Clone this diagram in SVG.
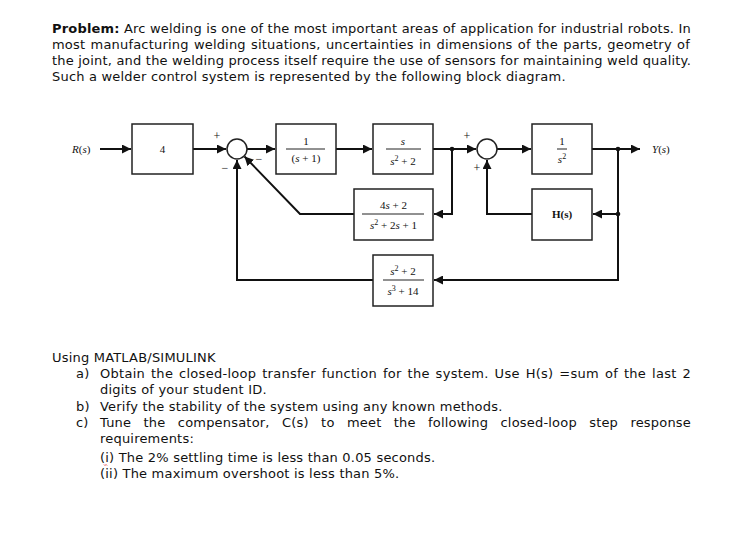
<svg xmlns="http://www.w3.org/2000/svg" width="733" height="539" viewBox="0 0 733 539">
<defs>
<style>
.p{font-family:"DejaVu Sans","Liberation Sans",sans-serif;font-size:13px;letter-spacing:0.2px;fill:#111}
.m{font-family:"Liberation Serif","Times New Roman",serif;font-size:11px;fill:#111}
.i{font-style:italic}
.box{fill:#fff;stroke:#222;stroke-width:1.5}
.c{fill:none;stroke:#111;stroke-width:2}
.bar{stroke:#222;stroke-width:1}
.sg{font-family:"Liberation Serif",serif;font-size:12px;fill:#111}
</style>
<marker id="ah" viewBox="0 0 10 10" refX="10" refY="5" markerWidth="4.5" markerHeight="4.5" orient="auto" markerUnits="strokeWidth">
<path d="M0,0 L10,5 L0,10 z" fill="#111"/>
</marker>
</defs>
<rect width="733" height="539" fill="#fff"/>

<g id="problem-text">
<text class="p" x="52" y="32.5" textLength="639" lengthAdjust="spacing"><tspan font-weight="bold">Problem:</tspan> Arc welding is one of the most important areas of application for industrial robots. In</text>
<text class="p" x="52" y="48.5" textLength="638" lengthAdjust="spacing" word-spacing="1">most manufacturing welding situations, uncertainties in dimensions of the parts, geometry of</text>
<text class="p" x="52" y="64.5" textLength="639" lengthAdjust="spacing">the joint, and the welding process itself require the use of sensors for maintaining weld quality.</text>
<text class="p" x="52" y="80.5">Such a welder control system is represented by the following block diagram.</text>
</g>

<g id="connectors">
<path class="c" d="M100,149 H131" marker-end="url(#ah)"/>
<path class="c" d="M193,149 H226" marker-end="url(#ah)"/>
<path class="c" d="M247,149 H275" marker-end="url(#ah)"/>
<path class="c" d="M336,149 H372" marker-end="url(#ah)"/>
<path class="c" d="M433,149 H476" marker-end="url(#ah)"/>
<path class="c" d="M452,149 V214 H434" marker-end="url(#ah)"/>
<path class="c" d="M354,214 H300 L244.5,156.5" marker-end="url(#ah)"/>
<path class="c" d="M497,149 H531" marker-end="url(#ah)"/>
<path class="c" d="M592,149 H640" marker-end="url(#ah)"/>
<path class="c" d="M618,149 V214 H593" marker-end="url(#ah)"/>
<path class="c" d="M618,214 V280 H434" marker-end="url(#ah)"/>
<path class="c" d="M532,214 H487 V160" marker-end="url(#ah)"/>
<path class="c" d="M373,280 H237 V160" marker-end="url(#ah)"/>
<circle cx="452" cy="149" r="2.3" fill="#111"/>
<circle cx="618" cy="149" r="2.3" fill="#111"/>
<circle cx="618" cy="214" r="2.3" fill="#111"/>
</g>

<g id="input">
<text class="m i" x="72" y="153" font-size="11.5">R<tspan font-style="normal">(</tspan>s<tspan font-style="normal">)</tspan></text>
</g>

<g id="gain4">
<rect class="box" x="132" y="124" width="61" height="50"/>
<text class="m" x="162.5" y="153" text-anchor="middle">4</text>
</g>

<g id="sum1">
<circle cx="237" cy="149" r="10" fill="#fff" stroke="#222" stroke-width="1.5"/>
<text class="sg" x="217" y="140" text-anchor="middle">+</text>
<text class="sg" x="225" y="172" text-anchor="middle">−</text>
<text class="sg" x="259" y="163" text-anchor="middle">−</text>
</g>

<g id="block-1-over-s1">
<rect class="box" x="276" y="124" width="60" height="50"/>
<text class="m" x="306" y="145" text-anchor="middle">1</text>
<line class="bar" x1="286" y1="149" x2="325" y2="149"/>
<text class="m" x="306" y="162" text-anchor="middle">(<tspan class="i">s</tspan> + 1)</text>
</g>

<g id="block-s-over-s2p2">
<rect class="box" x="373" y="124" width="60" height="50"/>
<text class="m i" x="403" y="145" text-anchor="middle">s</text>
<line class="bar" x1="386" y1="149" x2="421" y2="149"/>
<text class="m" x="403" y="165" text-anchor="middle"><tspan class="i">s</tspan><tspan dy="-4" font-size="8">2</tspan><tspan dy="4"> + 2</tspan></text>
</g>

<g id="block-4s2">
<rect class="box" x="354" y="189" width="79" height="51"/>
<text class="m" x="393.5" y="209" text-anchor="middle">4<tspan class="i">s</tspan> + 2</text>
<line class="bar" x1="362" y1="214" x2="424" y2="214"/>
<text class="m" x="393.5" y="229" text-anchor="middle"><tspan class="i">s</tspan><tspan dy="-4" font-size="8">2</tspan><tspan dy="4"> + 2</tspan><tspan class="i">s</tspan> + 1</text>
</g>

<g id="block-s2p2-over-s3p14">
<rect class="box" x="373" y="255" width="60" height="51"/>
<text class="m" x="403" y="275" text-anchor="middle"><tspan class="i">s</tspan><tspan dy="-4" font-size="8">2</tspan><tspan dy="4"> + 2</tspan></text>
<line class="bar" x1="383" y1="280" x2="424" y2="280"/>
<text class="m" x="403" y="295" text-anchor="middle"><tspan class="i">s</tspan><tspan dy="-4" font-size="8">3</tspan><tspan dy="4"> + 14</tspan></text>
</g>

<g id="sum2">
<circle cx="487" cy="149" r="10" fill="#fff" stroke="#222" stroke-width="1.5"/>
<text class="sg" x="467" y="140" text-anchor="middle">+</text>
<text class="sg" x="477" y="172" text-anchor="middle">+</text>
</g>

<g id="block-1-over-s2">
<rect class="box" x="532" y="124" width="60" height="50"/>
<text class="m" x="562" y="145" text-anchor="middle">1</text>
<line class="bar" x1="557" y1="149" x2="567" y2="149"/>
<text class="m" x="562" y="163" text-anchor="middle"><tspan class="i">s</tspan><tspan dy="-4" font-size="8">2</tspan></text>
</g>

<g id="block-H">
<rect class="box" x="532" y="189" width="60" height="51"/>
<text class="m" x="562" y="218" text-anchor="middle" font-weight="bold">H(s)</text>
</g>

<g id="output">
<text class="m i" x="652" y="153" font-size="10">Y<tspan font-style="normal">(</tspan>s<tspan font-style="normal">)</tspan></text>
</g>

<g id="tasks-text">
<text class="p" x="52" y="361.5">Using MATLAB/SIMULINK</text>
<text class="p" x="76" y="378">a)</text>
<text class="p" x="100" y="378" textLength="591" lengthAdjust="spacing" word-spacing="1.5">Obtain the closed-loop transfer function for the system. Use H(s) =sum of the last 2</text>
<text class="p" x="100" y="394">digits of your student ID.</text>
<text class="p" x="76" y="410.5">b)</text>
<text class="p" x="100" y="410.5">Verify the stability of the system using any known methods.</text>
<text class="p" x="76" y="426.5">c)</text>
<text class="p" x="100" y="426.5" textLength="591" lengthAdjust="spacing" word-spacing="8">Tune the compensator, C(s) to meet the following closed-loop step response</text>
<text class="p" x="100" y="442.5">requirements:</text>
<text class="p" x="100" y="461.5">(i) The 2% settling time is less than 0.05 seconds.</text>
<text class="p" x="100" y="477.5">(ii) The maximum overshoot is less than 5%.</text>
<path d="M104,464.5 l1,1 l1,-1 l1,1" fill="none" stroke="#d22" stroke-width="0.8"/>
</g>
</svg>
